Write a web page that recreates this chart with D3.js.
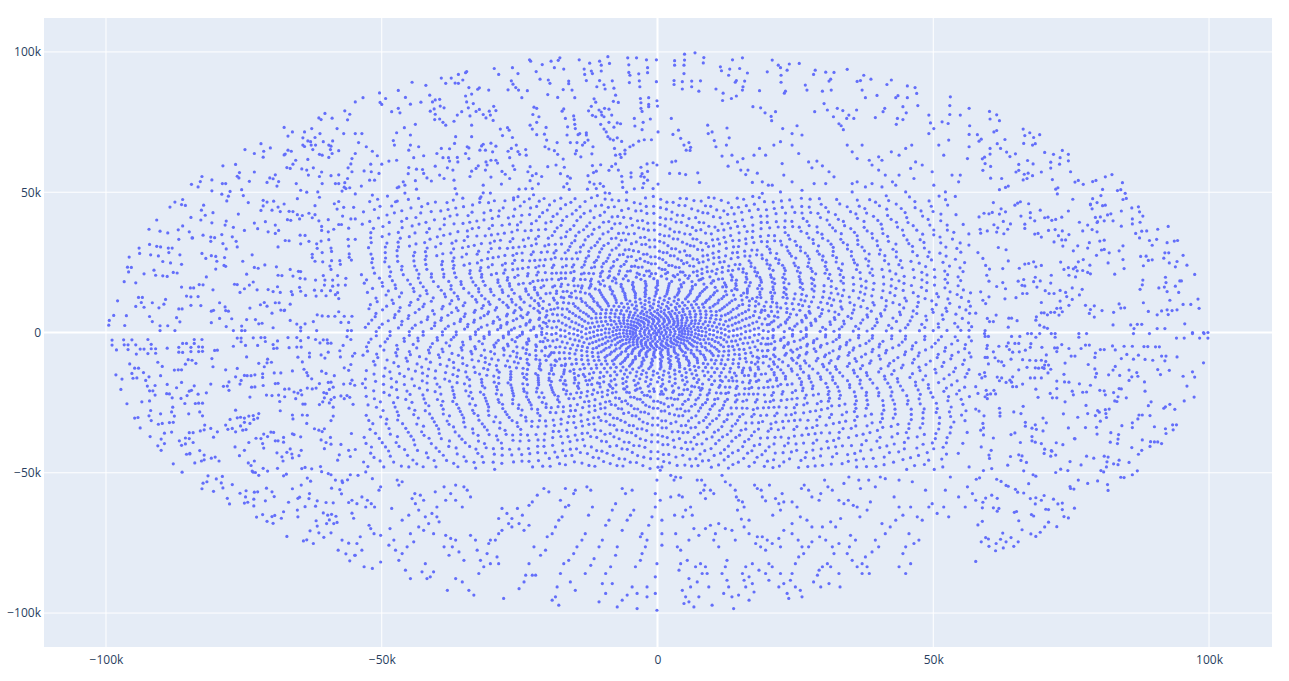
<!DOCTYPE html>
<html><head><meta charset="utf-8">
<script src="https://cdn.jsdelivr.net/npm/d3@7"></script>
<style>
html,body{margin:0;padding:0;background:#fff;}
svg text{font-family:"Open Sans",verdana,arial,sans-serif;}
</style>
</head><body>
<svg id="chart" width="1289" height="681"></svg>
<script>
// ---------- DATA (values in thousands) ----------
const xTickValues = [-100, -50, 0, 50, 100];
const xTickLabels = ["\u2212100k", "\u221250k", "0", "50k", "100k"];
const yTickValues = [-100, -50, 0, 50, 100];
const yTickLabels = ["\u2212100k", "\u221250k", "0", "50k", "100k"];

// outer band, upper-left  [x, y]
const outerUpperLeft = [[-60.3,78.1],[-56.7,79.0],[-55.8,77.8],[-59.0,76.4],[-61.4,76.5],[-61.0,75.9],[-56.2,75.8],[-58.1,72.7],[-56.9,70.9],[-54.8,70.9],[-62.7,72.7],[-67.7,73.1],[-66.2,71.5],[-64.0,71.5],[-67.0,70.0],[-64.3,69.4],[-63.4,68.3],[-62.9,68.0],[-62.1,69.5],[-61.2,70.9],[-60.6,68.0],[-59.6,66.8],[-59.2,66.4],[-58.9,68.3],[-62.0,66.8],[-62.8,66.8],[-64.3,66.8],[-64.0,66.3],[-71.9,67.3],[-70.2,65.8],[-71.4,64.6],[-71.5,62.5],[-73.1,63.8],[-74.8,65.2],[-67.5,63.6],[-67.7,63.3],[-67.0,65.0],[-66.4,64.6],[-65.6,61.4],[-66.1,60.0],[-66.6,58.5],[-67.2,58.8],[-64.5,58.3],[-63.4,61.7],[-62.4,58.7],[-62.5,65.2],[-61.3,63.5],[-60.8,63.2],[-59.0,63.8],[-59.6,62.4],[-59.3,65.2],[-57.8,64.8],[-55.4,62.0],[-55.6,60.1],[-56.1,58.7],[-56.2,54.9],[-55.4,57.3],[-60.9,57.2],[-61.3,55.6],[-60.8,53.1],[-59.2,55.9],[-57.8,56.2],[-58.4,53.1],[-57.8,53.1],[-56.7,53.4],[-56.8,51.8],[-57.2,50.4],[-56.5,51.3],[-55.8,51.6],[-63.6,57.9],[-63.3,56.1],[-65.5,53.1],[-64.7,50.7],[-65.3,47.7],[-63.6,50.0],[-61.6,50.1],[-62.1,45.2],[-61.3,48.2],[-69.3,56.2],[-69.7,54.8],[-69.0,52.2],[-70.8,53.5],[-70.3,55.1],[-68.7,53.8],[-74.0,53.9],[-73.1,57.2],[-76.5,59.9],[-75.8,57.0],[-76.2,55.7],[-75.9,55.1],[-78.8,59.4],[-82.6,55.6],[-82.9,53.8],[-84.5,52.8],[-83.3,51.9],[-80.8,54.4],[-78.9,53.1],[-78.3,53.1],[-80.8,50.5],[-79.0,49.3],[-77.8,48.6],[-77.5,50.3],[-78.1,46.9],[-75.4,50.9],[-75.1,48.8],[-74.2,46.3],[-86.1,47.4],[-86.3,45.6],[-87.5,46.5],[-85.6,45.3],[-88.4,44.7],[-82.3,45.4],[-82.7,43.6],[-82.0,41.8],[-80.6,42.7],[-82.8,40.1],[-84.6,41.0],[-90.8,40.1],[-92.2,36.8],[-90.2,36.1],[-88.8,35.5],[-86.9,36.6],[-86.1,38.0],[-86.8,33.2],[-84.9,35.9],[-84.3,33.7],[-94.0,30.1],[-93.9,28.2],[-92.1,31.4],[-90.8,30.7],[-90.1,30.5],[-91.9,27.7],[-90.5,27.3],[-89.7,25.3],[-88.7,30.1],[-88.0,30.1],[-88.6,28.5],[-88.3,24.8],[-89.7,20.2],[-88.9,20.0],[-87.8,21.4],[-87.1,21.2],[-86.3,24.3],[-86.3,16.2],[-86.6,27.7],[-95.8,26.9],[-96.1,23.3],[-95.4,23.2],[-95.9,21.6],[-96.7,18.1],[-94.6,17.7],[-93.1,20.9],[-91.3,22.2],[-91.0,20.4],[-97.9,11.3],[-98.6,6.1],[-99.4,4.3],[-99.5,2.6],[-96.6,2.5],[-96.3,6.0],[-94.6,9.3],[-94.1,12.5],[-93.4,12.5],[-93.6,10.7],[-93.1,9.0],[-91.6,10.6],[-89.5,10.1],[-89.2,11.8],[-90.4,8.8],[-92.1,5.7],[-91.6,3.9],[-90.2,2.4],[-90.2,0.7],[-88.8,2.4],[-87.5,0.7],[-87.2,5.3],[-86.6,3.8],[-86.8,8.4],[-86.2,8.4],[-80.8,39.1],[-78.2,39.7],[-78.4,38.3],[-79.0,34.9],[-78.8,31.7],[-78.2,29.8],[-77.1,34.1],[-76.2,30.5],[-76.4,32.5],[-76.9,37.5],[-76.0,42.2],[-74.9,36.4],[-84.4,33.7],[-82.4,34.7],[-81.0,34.0],[-80.3,33.8],[-81.0,32.5],[-82.6,28.2],[-80.9,27.4],[-80.1,27.1],[-81.9,26.4],[-79.9,25.4],[-78.5,26.7],[-78.6,23.9],[-78.3,23.6],[-80.1,22.6],[-81.8,19.8],[-82.4,17.0],[-83.1,17.1],[-84.7,15.9],[-84.1,15.9],[-85.4,13.0],[-84.6,12.7],[-83.3,12.8],[-82.8,9.6],[-84.6,9.7],[-80.6,15.2],[-80.9,7.6],[-80.5,7.9],[-79.4,10.6],[-78.4,9.1],[-77.8,7.6],[-78.3,7.8],[-79.4,5.0],[-80.9,3.5],[-77.2,4.9],[-78.2,2.1],[-76.9,0.7],[-75.4,0.7],[-74.8,0.7],[-75.4,2.3],[-74.5,4.6],[-73.9,8.7],[-72.9,4.6],[-72.3,3.1],[-71.7,3.3],[-72.0,9.9],[-71.3,10.7],[-70.8,9.4],[-69.9,6.9],[-69.7,1.7],[-69.3,10.6],[-68.6,10.6],[-68.3,8.0],[-67.6,8.0],[-66.6,10.1],[-66.6,4.3],[-65.4,3.0],[-64.7,1.8],[-64.7,0.6],[-63.9,3.1],[-62.4,3.9],[-61.8,0.7],[-61.7,6.3],[-60.8,5.9],[-59.7,5.8],[-58.5,5.8],[-57.8,7.4],[-57.4,3.6],[-56.8,5.8],[-56.0,3.6],[-55.4,5.8],[-56.2,0.7],[-55.5,0.7],[-71.5,47.1],[-70.8,46.5],[-71.5,45.1],[-71.9,43.5],[-69.9,43.6],[-69.6,46.8],[-68.8,44.7],[-68.4,43.1],[-67.7,45.8],[-66.8,43.2],[-66.1,43.1],[-66.5,40.0],[-67.1,40.2],[-65.3,42.0],[-64.4,41.7],[-64.9,40.5],[-63.2,42.5],[-62.6,40.9],[-62.1,42.0],[-61.4,39.8],[-59.7,40.2],[-60.9,37.8],[-60.9,36.4],[-59.7,35.9],[-58.7,36.8],[-57.8,38.5],[-57.3,38.5],[-57.1,41.5],[-58.6,45.9],[-58.1,44.0],[-57.8,46.7],[-56.9,44.6],[-55.1,44.6],[-55.6,40.5],[-56.0,37.2],[-54.8,40.5],[-73.1,39.0],[-72.5,37.0],[-71.1,39.5],[-70.6,35.9],[-69.3,38.3],[-68.7,36.4],[-69.3,35.3],[-68.8,30.5],[-67.5,32.8],[-66.8,32.7],[-64.8,34.7],[-63.9,34.6],[-64.7,31.6],[-63.2,32.5],[-61.8,31.6],[-61.0,32.6],[-59.6,33.1],[-59.2,30.1],[-59.1,28.9],[-60.8,28.5],[-61.7,30.0],[-62.6,27.9],[-62.6,26.7],[-62.1,25.4],[-60.7,25.2],[-59.1,25.6],[-59.4,23.7],[-59.2,22.5],[-57.6,25.6],[-57.5,24.3],[-56.1,33.2],[-56.0,30.8],[-54.8,33.2],[-55.9,28.0],[-55.9,26.8],[-55.5,25.8],[-75.2,25.4],[-73.5,27.7],[-74.5,20.8],[-73.1,23.2],[-72.4,22.9],[-71.2,24.1],[-69.1,23.4],[-68.8,20.4],[-68.1,20.3],[-66.6,22.5],[-66.1,20.1],[-65.1,21.8],[-64.7,21.7],[-64.8,19.3],[-63.9,19.1],[-62.0,18.7],[-60.6,20.3],[-60.3,18.7],[-60.4,16.9],[-58.9,18.7],[-58.0,20.3],[-58.9,16.5],[-57.9,16.9],[-56.5,19.3],[-56.6,16.9],[-76.7,17.2],[-76.2,17.1],[-75.7,14.3],[-74.9,15.6],[-74.0,16.9],[-73.3,18.0],[-72.6,15.2],[-70.6,15.3],[-69.7,14.6],[-68.9,16.3],[-68.4,14.3],[-67.7,7.8],[-66.4,14.6],[-66.2,13.5],[-64.9,16.1],[-64.7,14.7],[-63.8,13.2],[-62.2,15.1],[-61.9,13.0],[-60.9,14.9],[-60.1,13.1],[-59.3,14.9],[-58.4,13.5],[-58.0,14.2],[-57.8,12.1]];

// outer band, lower-left  [x, y]
const outerLowerLeft = [[-98.9,-2.7],[-98.9,-4.5],[-98.1,-6.2],[-96.8,-2.6],[-96.7,-4.4],[-96.0,-4.4],[-96.0,-6.1],[-95.3,-2.6],[-94.6,-4.4],[-94.5,-7.7],[-93.8,-5.9],[-93.1,-5.9],[-92.4,-2.5],[-91.8,-4.2],[-91.8,-5.8],[-91.0,-5.8],[-91.0,-7.4],[-92.4,-7.5],[-98.2,-15.1],[-97.1,-16.6],[-97.3,-20.3],[-96.2,-25.4],[-95.7,-11.2],[-95.3,-14.6],[-95.1,-16.3],[-94.8,-12.7],[-94.4,-16.2],[-94.1,-12.7],[-93.2,-14.3],[-92.2,-15.8],[-92.8,-17.1],[-94.8,-30.5],[-94.2,-30.3],[-93.8,-34.0],[-93.5,-24.7],[-92.5,-19.1],[-92.1,-20.8],[-92.1,-24.4],[-91.9,-27.8],[-92.2,-29.7],[-91.8,-31.4],[-91.5,-20.8],[-91.1,-18.9],[-91.1,-22.3],[-90.6,-10.6],[-90.1,-15.4],[-89.8,-12.1],[-88.9,-5.6],[-92.0,-37.1],[-90.6,-40.4],[-90.0,-42.0],[-90.0,-38.0],[-89.8,-32.4],[-90.5,-32.7],[-89.4,-35.9],[-89.4,-39.6],[-90.1,-29.0],[-88.9,-18.5],[-89.0,-21.8],[-88.5,-21.9],[-88.0,-23.3],[-88.1,-28.3],[-87.9,-26.6],[-87.6,-29.8],[-87.8,-32.0],[-88.5,-32.1],[-88.1,-35.5],[-87.8,-46.8],[-86.7,-38.6],[-86.3,-40.2],[-85.6,-39.7],[-85.6,-37.6],[-86.2,-49.8],[-85.4,-43.4],[-84.8,-43.3],[-85.0,-29.0],[-85.7,-25.3],[-86.3,-13.3],[-86.1,-7.1],[-86.8,-7.0],[-86.8,-5.3],[-85.4,-3.9],[-86.1,-3.9],[-84.6,-5.3],[-84.6,-6.8],[-84.0,-3.9],[-84.0,-2.5],[-83.2,-5.1],[-82.6,-2.5],[-82.5,-5.2],[-82.5,-6.7],[-83.2,-6.8],[-83.7,-11.0],[-84.4,-9.9],[-85.1,-9.7],[-85.6,-11.3],[-86.9,-13.3],[-87.6,-13.4],[-87.2,-19.7],[-86.3,-17.8],[-86.4,-23.5],[-85.3,-22.5],[-84.9,-20.9],[-84.5,-20.6],[-84.0,-19.0],[-83.3,-22.0],[-83.8,-25.3],[-83.2,-25.2],[-82.5,-25.2],[-83.0,-28.3],[-82.5,-29.7],[-82.9,-35.1],[-82.2,-34.7],[-81.8,-21.5],[-82.1,-33.0],[-81.0,-18.4],[-80.8,-9.3],[-80.6,-12.2],[-79.8,-6.3],[-80.3,-6.4],[-79.8,-35.4],[-80.5,-37.3],[-81.0,-34.2],[-84.9,-35.7],[-84.2,-35.7],[-84.9,-37.8],[-84.2,-39.2],[-84.8,-43.1],[-83.9,-46.5],[-83.0,-42.1],[-82.7,-45.8],[-82.2,-45.4],[-80.9,-44.8],[-80.2,-44.4],[-79.5,-45.8],[-82.2,-43.7],[-82.6,-55.7],[-82.4,-53.7],[-81.7,-53.2],[-81.5,-51.1],[-80.5,-56.6],[-80.0,-52.2],[-79.1,-53.6],[-78.8,-55.4],[-78.9,-51.3],[-78.0,-59.1],[-77.6,-61.1],[-77.1,-54.2],[-75.7,-57.3],[-74.9,-60.8],[-74.7,-58.6],[-74.6,-56.4],[-74.3,-60.5],[-73.2,-59.4],[-73.2,-61.8],[-73.1,-56.9],[-72.5,-56.8],[-72.9,-49.9],[-72.3,-50.9],[-73.5,-49.4],[-72.7,-65.8],[-71.6,-64.9],[-70.8,-67.3],[-71.1,-60.0],[-70.9,-55.5],[-69.9,-56.8],[-69.5,-58.5],[-69.9,-65.6],[-69.4,-65.2],[-69.7,-68.0],[-67.8,-63.9],[-68.2,-66.2],[-67.2,-72.7],[-66.9,-60.5],[-66.2,-55.7],[-65.2,-59.1],[-65.3,-63.3],[-65.2,-65.7],[-64.9,-58.7],[-63.9,-62.1],[-63.2,-59.2],[-63.1,-57.4],[-64.6,-54.4],[-63.5,-51.9],[-62.9,-53.0],[-64.2,-74.3],[-63.6,-73.9],[-62.4,-75.2],[-63.0,-70.7],[-62.0,-61.9],[-61.7,-60.0],[-61.7,-69.0],[-61.9,-67.1],[-61.4,-71.4],[-60.5,-73.0],[-60.1,-60.6],[-60.6,-64.3],[-60.0,-68.1],[-59.8,-65.1],[-59.5,-66.8],[-59.2,-71.4],[-59.1,-64.8],[-58.7,-68.1],[-58.3,-65.5],[-58.1,-67.7],[-57.9,-77.6],[-58.8,-60.7],[-58.4,-52.6],[-59.1,-55.5],[-59.2,-50.7],[-57.2,-52.9],[-57.3,-57.5],[-56.5,-78.9],[-56.0,-75.1],[-55.8,-81.4],[-54.9,-79.4],[-57.2,-74.0],[-55.7,-50.7],[-55.4,-64.4],[-55.1,-66.2],[-56.0,-60.6],[-55.4,-59.8],[-57.6,-56.0],[-57.1,-53.5],[-56.2,-52.5],[-76.9,-4.9],[-76.2,-2.0],[-75.5,-2.0],[-74.7,-4.6],[-74.5,-8.7],[-75.5,-3.3],[-73.3,-1.9],[-72.5,-4.6],[-71.9,-1.8],[-71.2,-1.8],[-71.1,-3.2],[-72.3,-11.0],[-70.8,-10.8],[-71.3,-12.2],[-70.0,-10.6],[-70.7,-9.5],[-69.7,-4.3],[-69.0,-5.6],[-69.6,-5.7],[-68.9,-3.0],[-67.0,-1.8],[-66.8,-5.4],[-65.4,-1.8],[-64.7,-2.9],[-65.4,-5.2],[-64.6,-5.2],[-63.3,-1.8],[-63.1,-7.3],[-63.1,-8.7],[-62.0,-2.5],[-61.2,-3.7],[-60.6,-2.6],[-59.9,-2.6],[-59.8,-3.8],[-59.2,-3.8],[-60.3,-9.1],[-61.0,-8.0],[-59.7,-7.0],[-57.6,-6.5],[-57.5,-8.7],[-57.0,-4.6],[-56.3,-1.5],[-55.6,-2.5],[-55.3,-8.4],[-54.9,-7.4],[-55.6,-11.4],[-78.3,-13.3],[-78.7,-19.2],[-78.0,-19.1],[-77.7,-20.6],[-77.7,-17.6],[-76.5,-15.8],[-76.2,-12.8],[-75.7,-18.4],[-75.5,-17.1],[-74.9,-15.3],[-74.4,-15.4],[-73.7,-15.4],[-73.0,-15.1],[-73.6,-19.5],[-73.0,-19.4],[-73.9,-23.0],[-71.5,-18.9],[-71.6,-16.0],[-71.6,-14.7],[-69.5,-14.4],[-70.9,-22.3],[-69.9,-22.5],[-69.3,-18.2],[-68.8,-18.1],[-68.3,-14.4],[-68.7,-22.3],[-67.6,-22.9],[-68.5,-24.6],[-68.4,-27.9],[-67.6,-20.2],[-66.8,-20.1],[-65.9,-21.2],[-66.2,-13.7],[-65.2,-8.8],[-64.4,-10.5],[-64.1,-13.1],[-63.4,-15.4],[-62.7,-16.5],[-63.6,-14.3],[-64.7,-20.6],[-65.6,-23.6],[-65.2,-21.6],[-64.5,-22.2],[-63.5,-19.8],[-62.6,-20.1],[-61.9,-19.8],[-60.5,-21.4],[-60.0,-21.7],[-59.5,-20.3],[-59.7,-17.8],[-59.2,-17.7],[-58.6,-15.4],[-58.8,-19.5],[-60.1,-14.6],[-60.9,-13.8],[-61.3,-18.2],[-61.3,-25.7],[-60.7,-24.7],[-60.4,-23.3],[-59.5,-25.1],[-59.2,-23.9],[-58.8,-26.6],[-58.6,-23.1],[-57.4,-22.6],[-56.8,-23.6],[-56.3,-22.5],[-55.8,-23.1],[-55.2,-25.6],[-55.7,-18.2],[-55.4,-17.0],[-54.9,-18.8],[-56.9,-18.4],[-56.8,-12.6],[-56.0,-13.5],[-58.8,-29.8],[-59.2,-31.4],[-60.4,-34.3],[-61.4,-34.8],[-60.8,-35.3],[-62.2,-34.3],[-63.6,-32.4],[-64.4,-29.4],[-66.2,-29.4],[-66.1,-30.8],[-64.3,-25.5],[-63.9,-25.5],[-63.5,-29.5],[-65.9,-36.4],[-64.7,-37.2],[-66.2,-36.1],[-67.8,-37.4],[-67.8,-39.1],[-68.8,-38.6],[-69.3,-38.6],[-69.6,-35.6],[-70.1,-35.5],[-70.7,-37.1],[-71.4,-36.2],[-71.6,-39.6],[-71.9,-37.8],[-72.8,-37.7],[-74.1,-39.2],[-73.9,-32.4],[-73.2,-31.0],[-72.5,-30.5],[-72.3,-28.9],[-73.3,-29.6],[-74.1,-29.8],[-74.9,-30.5],[-75.6,-30.2],[-76.2,-30.4],[-76.5,-27.7],[-77.5,-31.0],[-78.3,-33.0],[-77.9,-34.5],[-77.1,-34.2],[-76.5,-35.4],[-75.6,-33.3],[-75.2,-34.8],[-74.6,-34.6],[-74.9,-32.0],[-76.6,-40.8],[-75.8,-43.9],[-74.9,-42.0],[-74.2,-46.5],[-73.7,-47.4],[-73.3,-49.8],[-73.1,-45.8],[-71.5,-48.4],[-70.7,-49.4],[-68.9,-48.4],[-67.8,-51.1],[-67.3,-50.5],[-66.3,-43.3],[-66.2,-44.7],[-65.0,-43.9],[-64.5,-48.5],[-63.9,-48.1],[-64.6,-42.0],[-66.6,-41.5],[-67.2,-42.7],[-69.0,-42.9],[-68.1,-44.3],[-67.9,-45.8],[-71.4,-41.2],[-61.0,-38.3],[-60.1,-39.2],[-60.4,-41.4],[-59.2,-39.8],[-59.3,-37.4],[-58.0,-45.5],[-57.7,-43.6],[-57.4,-39.9],[-56.0,-42.0],[-55.5,-36.0],[-54.8,-41.7],[-55.7,-44.2],[-59.7,-50.3],[-60.9,-49.6],[-61.1,-47.8],[-62.7,-48.6]];

// outer band, upper-right  [x, y]
const outerUpperRight = [[60.2,78.8],[60.3,76.1],[61.5,77.6],[62.0,75.5],[61.0,71.5],[61.5,72.0],[58.0,70.5],[58.3,68.2],[58.7,68.9],[58.9,61.9],[59.3,62.5],[59.4,60.2],[60.3,65.6],[60.3,63.6],[60.4,59.2],[59.0,57.8],[60.4,55.0],[61.6,67.3],[62.2,65.6],[63.0,68.8],[63.3,64.3],[63.9,62.7],[64.9,63.7],[62.4,54.9],[62.0,50.9],[63.1,51.7],[63.6,52.2],[66.3,72.5],[66.6,70.2],[67.5,71.2],[68.2,69.5],[69.3,70.5],[66.4,67.4],[68.0,66.8],[68.5,67.3],[67.1,61.3],[65.5,59.9],[68.1,60.1],[65.5,57.8],[65.0,57.2],[67.2,56.8],[66.5,56.4],[67.0,54.9],[66.3,54.4],[68.0,55.9],[69.6,57.2],[70.2,64.2],[71.3,60.7],[71.8,63.5],[71.3,58.6],[73.0,62.3],[72.9,60.0],[73.4,64.9],[74.5,63.5],[74.5,61.2],[74.9,57.3],[71.6,54.5],[72.2,51.1],[72.6,51.6],[72.5,49.4],[75.7,53.6],[76.3,54.2],[77.2,52.8],[78.9,53.8],[79.5,54.2],[81.2,55.5],[82.4,56.3],[80.7,51.0],[80.4,48.8],[78.9,47.7],[78.5,45.5],[79.7,46.3],[78.8,44.1],[81.2,45.4],[80.7,45.2],[79.4,41.0],[79.7,39.2],[79.7,35.9],[80.3,41.2],[81.0,39.8],[81.6,41.9],[82.2,42.3],[81.9,28.4],[82.6,39.8],[83.4,50.6],[84.0,50.9],[84.3,53.4],[84.8,49.6],[84.4,47.4],[85.0,47.8],[84.1,43.3],[84.1,37.9],[83.7,29.1],[84.4,30.9],[84.4,26.0],[84.6,22.8],[82.9,20.8],[81.7,24.8],[81.0,32.9],[81.0,29.6],[80.5,29.4],[80.2,32.6],[79.6,27.5],[78.0,30.1],[78.3,32.0],[78.8,36.7],[79.8,39.5],[86.0,44.4],[86.1,40.5],[86.1,38.7],[87.2,44.8],[87.4,43.0],[87.5,39.3],[88.0,41.5],[86.7,35.3],[87.4,33.7],[87.8,36.1],[88.7,36.2],[89.2,32.8],[89.7,31.1],[90.5,33.2],[90.7,36.8],[92.6,37.8],[92.4,32.0],[92.0,28.4],[91.8,26.5],[92.7,28.4],[93.7,32.6],[94.3,32.8],[95.3,27.5],[94.2,25.3],[93.9,23.4],[92.8,24.8],[92.1,19.7],[92.2,17.8],[91.9,16.2],[90.9,15.9],[92.4,14.6],[92.9,11.5],[93.9,16.5],[94.7,18.4],[95.0,18.4],[94.5,14.3],[96.0,24.0],[97.4,20.7],[98.0,11.9],[98.2,8.6],[96.7,10.0],[95.3,10.0],[95.6,3.1],[94.2,8.1],[93.3,7.8],[92.6,6.4],[92.4,8.1],[91.4,7.7],[90.6,6.3],[89.0,7.5],[88.1,10.6],[88.0,18.7],[87.5,15.4],[87.9,17.0],[87.6,27.1],[88.6,27.2],[88.1,23.8],[89.0,25.7],[89.7,25.9],[58.3,41.2],[58.5,36.8],[58.6,35.4],[59.2,42.5],[59.8,36.2],[60.1,42.3],[60.7,42.8],[60.9,46.3],[62.0,42.2],[62.3,44.1],[63.1,43.0],[62.7,39.6],[63.5,36.8],[62.8,35.2],[61.7,37.3],[61.5,35.8],[61.0,38.4],[64.0,38.7],[64.8,45.4],[65.3,46.1],[65.8,46.6],[65.9,41.5],[66.6,38.6],[66.6,37.1],[67.3,45.9],[67.6,42.7],[67.6,40.9],[68.4,39.8],[68.4,35.1],[69.0,35.3],[69.4,43.6],[69.6,34.0],[70.2,40.9],[70.8,41.1],[70.9,36.4],[71.5,40.0],[71.9,32.3],[72.2,40.3],[72.1,36.7],[72.7,34.5],[73.3,41.1],[73.4,36.2],[73.5,30.8],[73.3,33.0],[74.0,33.0],[74.6,34.9],[74.5,43.3],[75.3,47.5],[75.4,29.1],[76.2,30.9],[76.5,39.3],[77.1,36.2],[78.0,38.3],[78.5,45.8],[58.1,28.5],[59.0,26.4],[59.5,23.9],[60.2,22.6],[59.7,20.4],[60.1,18.3],[58.6,14.5],[59.0,11.5],[59.5,10.3],[60.1,12.7],[57.7,6.9],[59.8,5.0],[60.2,3.9],[60.9,3.9],[61.4,6.2],[61.5,16.4],[62.6,17.8],[63.1,15.6],[63.0,12.0],[63.6,25.5],[63.2,29.5],[61.8,30.3],[62.6,22.8],[59.4,0.7],[63.7,5.1],[64.2,5.1],[65.2,4.2],[63.6,1.9],[65.0,12.4],[65.4,18.3],[66.4,18.9],[66.1,16.8],[66.6,16.6],[66.2,13.9],[67.0,13.9],[65.6,22.9],[66.6,24.4],[67.3,24.6],[68.2,25.2],[68.6,23.4],[68.5,19.7],[68.2,18.1],[69.4,18.4],[68.8,16.2],[69.6,23.9],[70.3,14.9],[71.3,17.6],[71.0,13.9],[71.9,13.9],[71.4,20.4],[73.1,25.1],[73.7,22.5],[74.5,23.1],[74.6,20.4],[75.4,22.7],[75.8,23.3],[75.2,15.9],[73.0,15.0],[74.0,14.3],[74.2,12.8],[75.2,11.8],[73.0,11.2],[72.4,8.6],[73.1,8.7],[73.4,7.4],[72.8,6.2],[72.0,7.2],[71.3,7.2],[70.7,6.3],[69.6,10.7],[68.7,5.6],[69.6,7.0],[70.1,7.0],[68.6,4.4],[69.3,2.6],[70.1,1.9],[70.7,1.5],[75.8,19.8],[76.5,13.4],[77.0,15.4],[77.6,9.7],[78.5,8.2],[79.2,9.5],[79.2,5.5],[78.3,6.8],[80.6,7.8],[82.7,7.2],[82.6,2.7],[84.0,8.7],[84.7,8.8],[83.7,10.2],[85.8,2.7],[86.4,1.4],[87.0,2.9],[87.8,2.9],[77.1,22.1],[78.0,21.4],[78.5,20.9],[78.4,24.0],[77.2,26.0],[76.3,25.2],[76.1,22.0],[74.6,9.7],[90.6,1.4],[92.0,1.4],[97.0,0.0],[99.0,0.0],[99.8,0.0]];

// outer band, lower-right  [x, y]
const outerLowerRight = [[59.3,-0.4],[59.4,-1.4],[60.0,-1.4],[64.2,-1.4],[65.7,-1.4],[67.1,-0.4],[67.8,-0.4],[68.6,-1.7],[69.3,-0.4],[71.4,-0.4],[72.1,-0.4],[72.1,-1.7],[76.4,-0.4],[76.4,-1.7],[77.8,-0.4],[86.3,-0.4],[89.2,-0.4],[94.1,-2.0],[95.5,-2.0],[97.0,-0.4],[98.3,-2.0],[99.1,-0.4],[99.8,-2.0],[59.8,-4.6],[59.7,-5.7],[60.0,-11.2],[59.4,-8.9],[59.8,-8.9],[61.2,-9.0],[60.9,-6.9],[61.9,-4.9],[62.4,-10.5],[62.8,-11.8],[61.8,-10.2],[63.6,-3.7],[63.3,-4.9],[63.8,-6.1],[64.4,-7.0],[64.1,-9.5],[64.8,-3.9],[65.5,-3.9],[65.6,-6.9],[66.7,-6.3],[66.2,-9.7],[67.0,-12.4],[67.6,-5.3],[67.7,-4.0],[67.5,-9.9],[68.6,-10.0],[68.5,-12.6],[69.1,-12.7],[69.7,-5.3],[69.6,-9.9],[69.8,-12.5],[70.4,-10.3],[70.2,-11.6],[70.9,-11.6],[70.5,-8.0],[70.8,-14.4],[71.3,-13.1],[72.0,-5.5],[72.5,-5.5],[72.4,-6.8],[73.3,-4.3],[73.9,-10.9],[74.6,-5.7],[75.0,-8.4],[75.7,-8.4],[76.8,-5.7],[77.6,-4.5],[78.3,-4.5],[78.5,-18.8],[78.1,-11.4],[79.3,-8.9],[79.4,-7.3],[80.3,-6.1],[81.0,-6.1],[79.3,-13.0],[79.6,-14.6],[79.4,-15.9],[77.8,-21.2],[76.5,-18.3],[77.1,-21.3],[75.2,-20.9],[75.4,-22.2],[74.6,-17.7],[73.7,-14.9],[73.8,-17.6],[72.4,-17.3],[72.4,-20.0],[71.2,-21.7],[70.1,-12.8],[69.0,-23.1],[68.6,-20.2],[69.6,-16.2],[68.4,-16.2],[67.6,-16.2],[66.2,-18.4],[65.5,-13.3],[64.4,-15.8],[64.2,-17.7],[65.1,-19.3],[64.4,-19.3],[63.9,-17.0],[63.2,-17.8],[62.4,-16.2],[62.0,-17.2],[61.6,-15.9],[61.3,-21.9],[61.0,-20.6],[60.4,-21.9],[59.8,-22.1],[59.8,-23.6],[59.6,-20.6],[59.4,-22.9],[59.4,-15.6],[58.8,-16.2],[59.3,-14.3],[58.4,-14.9],[57.7,-19.3],[58.1,-21.7],[82.5,-4.8],[83.0,-6.2],[84.6,-4.9],[86.1,-4.9],[85.1,-7.8],[84.1,-9.3],[86.3,-9.5],[87.2,-8.1],[88.2,-5.0],[88.9,-5.0],[90.3,-5.1],[91.0,-5.1],[88.4,-9.6],[89.8,-9.9],[91.4,-8.4],[92.2,-8.4],[94.2,-8.7],[92.0,-10.1],[90.7,-13.2],[91.2,-15.0],[92.8,-13.5],[95.3,-15.6],[97.0,-14.0],[97.4,-15.9],[96.0,-19.1],[95.5,-24.4],[97.3,-23.0],[99.0,-10.8],[93.8,-27.4],[92.9,-25.6],[92.1,-26.5],[91.8,-27.0],[93.4,-32.9],[94.1,-32.9],[93.5,-34.7],[92.2,-36.0],[92.1,-34.3],[91.4,-39.6],[90.7,-39.0],[90.1,-39.0],[89.4,-38.9],[89.3,-40.6],[87.8,-42.0],[87.2,-43.4],[87.9,-38.3],[87.1,-30.8],[87.3,-29.4],[87.9,-29.4],[89.3,-29.6],[89.0,-26.1],[89.5,-24.7],[90.1,-33.6],[88.4,-20.9],[88.3,-17.6],[87.1,-15.6],[86.0,-15.8],[85.5,-17.1],[85.0,-23.3],[84.1,-20.1],[83.7,-20.0],[83.5,-22.9],[83.3,-24.6],[82.9,-24.4],[82.7,-21.4],[81.8,-15.1],[82.6,-13.4],[83.0,-12.1],[83.8,-15.3],[85.5,-13.4],[86.9,-14.3],[86.1,-32.2],[86.1,-33.9],[86.0,-41.0],[84.2,-33.2],[83.6,-36.4],[83.5,-38.0],[83.4,-39.6],[82.1,-39.1],[82.2,-35.7],[81.2,-22.2],[81.0,-20.8],[80.2,-20.6],[79.8,-27.8],[79.4,-29.6],[80.1,-28.4],[80.3,-31.6],[81.4,-30.3],[81.3,-28.9],[81.9,-27.3],[81.2,-27.5],[79.7,-36.2],[79.6,-33.8],[77.6,-33.9],[78.0,-28.9],[77.7,-26.0],[76.2,-30.2],[75.7,-37.9],[74.8,-46.0],[76.8,-47.2],[77.8,-44.1],[79.1,-44.8],[81.0,-44.1],[81.7,-44.4],[81.5,-46.1],[81.4,-47.9],[80.9,-49.7],[80.4,-49.2],[82.7,-46.8],[83.5,-47.1],[83.7,-45.5],[87.0,-49.3],[86.1,-50.7],[84.6,-51.7],[84.0,-51.6],[85.5,-46.3],[81.6,-54.2],[81.7,-56.3],[79.8,-52.9],[78.0,-53.8],[76.3,-52.6],[74.9,-55.6],[75.5,-55.8],[57.7,-27.3],[58.3,-28.0],[59.2,-29.7],[59.0,-32.4],[59.1,-34.0],[58.6,-34.8],[59.1,-36.5],[58.7,-40.8],[60.5,-42.0],[60.9,-37.6],[62.1,-28.6],[62.1,-29.8],[62.0,-27.0],[64.6,-28.3],[65.9,-28.9],[66.3,-26.3],[66.7,-32.0],[66.7,-33.4],[68.5,-32.9],[67.9,-34.1],[68.7,-34.5],[69.9,-30.5],[70.5,-32.2],[69.9,-35.1],[69.6,-39.6],[67.9,-37.1],[67.9,-38.6],[68.5,-39.1],[64.8,-35.8],[64.1,-36.4],[65.8,-39.2],[65.9,-45.6],[65.5,-43.6],[66.1,-44.0],[66.9,-46.3],[65.3,-56.9],[64.9,-55.9],[63.6,-54.8],[63.2,-54.5],[62.3,-53.1],[61.5,-52.3],[60.6,-48.5],[59.1,-49.2],[58.4,-51.8],[57.8,-52.3],[60.2,-44.9],[60.1,-43.7],[63.5,-47.3],[64.0,-44.2],[66.4,-49.3],[68.1,-50.7],[68.6,-51.2],[67.3,-53.9],[66.4,-57.2],[70.2,-41.6],[71.5,-42.3],[72.3,-39.3],[73.5,-40.0],[72.2,-43.7],[71.3,-44.1],[71.4,-42.1],[70.1,-43.1],[71.6,-23.3],[72.4,-23.3],[73.9,-24.7],[73.6,-29.0],[74.5,-34.0],[75.6,-37.8],[73.1,-48.7],[72.2,-49.9],[74.4,-49.2],[74.8,-54.9],[70.1,-58.1],[69.6,-59.8],[68.6,-58.9],[68.5,-61.1],[67.6,-59.2],[67.8,-64.9],[68.2,-65.4],[70.4,-63.0],[70.9,-63.1],[71.8,-59.4],[72.6,-61.1],[73.4,-60.8],[73.4,-63.1],[73.7,-65.6],[74.5,-66.1],[75.6,-62.6],[72.4,-69.2],[70.9,-67.6],[70.2,-69.3],[69.4,-71.2],[68.6,-72.7],[67.7,-71.8],[66.1,-70.3],[65.5,-67.1],[65.1,-63.8],[64.7,-64.1],[61.9,-62.7],[61.6,-63.7],[60.9,-62.5],[59.0,-60.5],[58.9,-62.5],[60.6,-58.0],[61.6,-59.1],[59.5,-59.0],[58.1,-68.6],[58.9,-67.3],[58.7,-74.6],[59.5,-73.1],[60.0,-73.6],[60.1,-76.2],[61.4,-75.2],[62.2,-73.7],[62.6,-71.5],[63.2,-74.6],[64.1,-73.1],[64.6,-76.2],[65.4,-74.6],[61.3,-77.8],[62.7,-76.8],[57.7,-81.6]];

// upper middle band, left of centre  [x, y]
const upperMidLeft = [[-23.0,96.7],[-23.2,97.2],[-20.9,95.5],[-19.3,96.7],[-18.7,94.4],[-17.7,97.9],[-18.0,97.0],[-17.0,93.9],[-14.2,97.2],[-12.3,96.0],[-10.5,96.7],[-10.2,95.3],[-9.0,98.3],[-8.7,95.9],[-5.4,97.9],[-5.2,95.4],[-3.8,97.9],[-2.0,97.2],[-0.2,97.2],[-5.2,92.7],[-5.0,91.7],[-3.4,92.2],[-1.8,94.4],[-1.8,92.6],[-0.2,89.4],[-3.3,89.7],[-3.2,87.6],[-5.1,89.1],[-8.2,89.7],[-7.9,87.1],[-9.7,88.3],[-9.5,86.8],[-11.0,87.6],[-10.5,89.8],[-12.0,93.2],[-11.8,92.3],[-10.2,93.2],[-13.3,93.9],[-13.2,92.0],[-12.9,89.8],[-16.1,89.6],[-16.1,88.7],[-15.5,86.4],[-15.0,83.7],[-17.1,86.6],[-18.1,83.8],[-19.9,84.8],[-19.8,90.0],[-19.5,88.8],[-21.3,90.3],[-22.0,93.0],[-26.5,89.7],[-26.2,88.5],[-25.7,87.3],[-25.2,86.4],[-24.6,83.7],[-23.6,86.2],[-27.1,86.5],[-28.8,92.0],[-29.6,94.1],[-26.3,94.4],[-25.3,92.3],[-30.6,86.4],[-32.3,87.2],[-32.6,86.7],[-34.2,87.3],[-33.7,85.0],[-34.6,93.0],[-34.8,92.6],[-35.3,90.0],[-36.1,92.0],[-34.8,84.3],[-34.6,82.2],[-36.1,88.8],[-37.4,90.7],[-36.7,88.9],[-39.2,90.7],[-38.4,88.8],[-42.0,88.1],[-44.5,89.2],[-47.0,86.3],[-49.3,83.4],[-50.4,85.4],[-50.3,82.0],[-50.0,81.3],[-53.4,83.7],[-54.8,82.2],[-45.7,83.8],[-44.8,81.4],[-42.9,82.1],[-41.3,84.6],[-40.3,82.9],[-39.5,83.1],[-39.4,80.7],[-40.5,79.7],[-53.6,70.9],[-54.2,67.7],[-54.8,63.8],[-52.8,66.2],[-51.7,64.6],[-50.8,63.0],[-52.0,60.0],[-50.0,60.0],[-51.9,57.3],[-53.2,57.6],[-50.5,56.7],[-51.3,54.3],[-52.2,54.3],[-53.7,52.2],[-51.7,49.0],[-54.8,49.4],[-47.0,79.9],[-46.7,78.3],[-48.2,78.7],[-47.3,71.2],[-45.9,73.0],[-44.8,70.4],[-43.9,74.2],[-44.8,66.8],[-45.1,65.0],[-43.3,66.2],[-44.2,62.3],[-42.4,63.0],[-47.7,66.8],[-47.9,68.4],[-48.7,61.1],[-47.3,61.4],[-45.1,58.8],[-45.2,56.6],[-43.7,58.2],[-42.4,56.7],[-41.8,55.1],[-42.6,58.1],[-41.0,54.0],[-43.9,54.1],[-46.1,53.7],[-45.8,52.5],[-46.9,51.9],[-47.2,51.6],[-45.8,49.7],[-43.7,51.1],[-47.5,46.6],[-40.8,82.2],[-41.2,78.9],[-40.3,77.8],[-39.5,76.1],[-38.9,74.9],[-38.4,73.9],[-40.4,75.9],[-38.7,80.1],[-36.9,75.3],[-36.3,77.5],[-35.5,78.7],[-34.0,77.2],[-33.7,73.9],[-32.9,78.8],[-32.3,79.5],[-31.6,77.7],[-31.1,76.5],[-30.5,78.9],[-29.7,80.6],[-29.3,79.1],[-30.3,77.5],[-29.8,75.6],[-33.4,81.6],[-34.3,80.1],[-36.6,69.8],[-36.8,67.4],[-37.7,65.5],[-37.9,62.3],[-37.7,61.1],[-36.3,62.4],[-36.2,60.8],[-38.1,58.7],[-37.1,57.9],[-40.0,63.8],[-39.2,65.6],[-38.9,62.3],[-40.3,59.3],[-39.5,56.1],[-38.7,54.9],[-36.9,54.3],[-36.7,51.3],[-36.4,49.4],[-34.2,65.8],[-33.7,69.8],[-34.5,66.2],[-34.8,63.8],[-34.2,62.0],[-33.7,57.5],[-34.0,55.6],[-32.9,58.5],[-32.5,59.4],[-31.9,66.5],[-32.2,65.0],[-31.6,67.1],[-31.2,65.0],[-30.2,67.5],[-29.9,64.4],[-29.3,66.4],[-28.1,70.2],[-28.5,72.5],[-27.2,73.0],[-26.9,72.1],[-26.3,69.5],[-25.6,66.8],[-26.5,65.6],[-27.1,64.6],[-26.8,62.3],[-26.2,59.4],[-25.9,58.1],[-26.8,54.9],[-27.6,56.4],[-28.2,57.4],[-31.1,60.8],[-30.9,59.7],[-31.2,57.9],[-30.2,61.4],[-29.3,61.4],[-29.0,60.4],[-30.2,55.4],[-31.6,52.5],[-31.6,49.8],[-30.3,49.7],[-32.2,47.8],[-28.3,52.9],[-23.1,73.9],[-22.7,72.5],[-21.9,70.5],[-20.5,70.7],[-20.1,68.6],[-18.2,67.7],[-19.7,65.4],[-20.4,66.2],[-18.7,64.8],[-20.2,73.1],[-22.4,80.3],[-21.9,79.9],[-22.6,77.7],[-21.9,74.9],[-21.5,76.9],[-25.3,64.5],[-23.9,65.2],[-25.0,63.5],[-23.8,63.2],[-23.1,59.1],[-23.5,57.3],[-23.1,54.1],[-22.7,55.9],[-22.0,56.6],[-21.6,53.0],[-21.0,55.6],[-22.7,51.3],[-23.9,51.2],[-25.1,51.1],[-25.3,48.4],[-26.1,48.0],[-19.9,59.1],[-18.4,59.7],[-16.9,58.9],[-16.3,55.7],[-15.8,55.0],[-17.6,56.6],[-17.0,51.9],[-16.4,53.1],[-16.0,51.0],[-18.1,63.5],[-17.1,61.8],[-17.3,78.9],[-17.0,79.7],[-16.7,76.3],[-16.3,73.3],[-15.2,77.2],[-15.1,75.9],[-16.4,70.4],[-15.8,67.7],[-14.6,67.7],[-13.6,66.8],[-13.2,67.7],[-12.9,70.4],[-12.6,68.6],[-11.7,66.2],[-11.9,63.7],[-13.9,62.6],[-14.9,63.7],[-14.7,64.8],[-14.4,70.5],[-14.9,72.7],[-15.0,74.2],[-14.1,70.9],[-12.9,71.2],[-11.8,77.4],[-12.0,80.6],[-12.5,79.0],[-11.5,83.3],[-11.2,82.1],[-10.6,79.3],[-10.2,78.6],[-9.7,76.9],[-11.2,76.9],[-10.3,74.2],[-9.7,72.5],[-8.8,74.9],[-9.3,71.5],[-9.0,69.8],[-8.6,69.0],[-7.9,73.2],[-7.3,74.7],[-6.7,74.4],[-8.0,68.6],[-7.3,69.4],[-6.5,68.1],[-7.8,65.6],[-7.6,63.2],[-6.8,63.5],[-6.6,62.4],[-5.9,63.7],[-4.2,76.3],[-4.1,73.6],[-2.8,72.3],[-2.6,74.9],[-2.8,78.8],[-3.0,79.9],[-3.0,81.9],[-3.1,83.4],[-1.6,83.7],[-1.6,81.3],[-1.6,80.5],[-1.3,76.1],[-0.1,82.6],[0.0,80.7],[0.1,71.5],[-1.1,68.7],[-2.4,68.7],[-3.4,68.2],[-4.4,66.8],[-5.0,66.2],[-5.9,65.0],[-7.6,84.6],[-7.1,82.0],[-8.0,82.4],[-8.8,79.6],[-8.3,77.5],[-9.6,79.9],[-10.1,77.5],[-7.6,60.1],[-8.3,59.2],[-8.8,57.8],[-10.3,59.8],[-11.8,59.5],[-11.1,57.5],[-11.6,57.0],[-12.6,55.9],[-12.3,53.6],[-12.7,51.1],[-11.5,52.9],[-10.4,53.1],[-9.5,49.8],[-8.7,49.6],[-9.8,52.1],[-11.1,51.3],[-7.1,57.9],[-6.5,55.7],[-4.8,56.9],[-6.4,53.7],[-6.3,51.7],[-5.6,50.0],[-4.8,55.4],[-4.2,51.2],[-3.0,58.9],[-2.8,56.6],[-3.0,55.7],[-2.4,55.4],[-1.8,54.3],[-1.8,57.4],[-1.9,60.1],[-0.8,60.5],[-0.1,59.7],[0.1,52.9],[-0.8,51.3],[-2.5,53.2],[-2.7,51.6]];

// upper middle band, right of centre  [x, y]
const upperMidRight = [[3.1,96.9],[3.1,95.3],[4.9,99.2],[4.9,97.1],[4.8,95.3],[6.8,99.7],[8.4,98.0],[8.3,96.1],[3.0,89.8],[3.0,88.4],[4.5,89.4],[4.5,86.8],[6.2,89.6],[6.2,87.6],[7.8,89.7],[7.5,86.0],[4.8,92.3],[11.4,94.7],[11.6,93.3],[13.6,97.2],[13.1,93.9],[12.9,91.7],[14.3,89.8],[14.1,89.2],[14.9,94.1],[16.3,92.5],[15.4,97.9],[15.8,89.6],[15.5,87.6],[15.4,86.4],[10.6,86.8],[11.9,85.3],[11.8,82.7],[13.4,83.4],[14.3,84.3],[19.9,92.9],[20.8,97.1],[22.3,94.4],[21.9,95.3],[22.4,91.7],[22.4,89.2],[23.5,93.5],[23.9,95.7],[25.7,95.9],[23.0,85.3],[23.2,86.0],[18.5,86.2],[17.3,80.5],[18.7,80.1],[19.5,78.3],[20.6,77.0],[21.4,78.7],[20.7,75.5],[26.8,88.2],[27.1,86.4],[28.6,93.5],[28.3,92.0],[30.5,92.8],[29.9,86.0],[31.1,89.6],[31.4,90.3],[32.0,92.7],[34.4,93.8],[31.5,86.4],[28.5,78.7],[30.2,81.6],[30.8,79.3],[32.6,79.9],[31.9,76.9],[33.6,79.1],[34.3,76.3],[34.7,77.5],[32.9,74.4],[33.3,73.7],[33.7,72.3],[36.2,89.5],[36.8,89.8],[37.4,91.7],[37.1,86.4],[36.1,79.3],[38.7,90.3],[35.6,76.3],[37.7,83.7],[39.8,84.5],[41.6,88.4],[42.4,90.0],[43.2,83.7],[45.3,83.7],[46.7,87.3],[47.0,85.2],[45.3,87.9],[43.6,84.4],[44.5,80.5],[45.1,78.3],[41.2,79.9],[40.9,78.7],[39.5,76.6],[43.5,76.3],[43.3,74.2],[44.5,75.9],[47.2,80.9],[49.2,77.5],[49.5,74.7],[51.6,75.1],[53.1,84.0],[53.0,80.9],[52.7,74.5],[54.9,77.5],[56.5,79.9],[56.6,73.7],[56.5,70.6],[53.0,77.7],[2.5,76.3],[2.8,70.6],[3.8,72.1],[4.2,69.2],[4.8,66.8],[5.2,65.0],[6.0,66.0],[5.7,67.7],[5.9,64.9],[2.6,60.8],[3.3,61.1],[2.2,56.7],[4.0,56.7],[5.1,56.3],[7.3,56.9],[7.6,53.5],[9.1,73.9],[9.2,70.9],[9.9,71.5],[12.6,72.9],[13.0,69.4],[12.5,66.8],[10.3,68.4],[10.6,66.2],[11.7,62.9],[12.8,59.3],[13.5,63.2],[14.5,60.8],[15.5,62.0],[15.1,57.9],[16.0,56.3],[17.2,53.5],[16.4,57.9],[18.1,56.8],[19.0,53.7],[19.0,49.6],[20.1,52.5],[17.5,63.2],[18.5,65.6],[19.6,63.2],[21.1,66.8],[22.3,68.0],[22.7,72.7],[24.4,70.9],[25.3,73.7],[26.2,70.4],[24.4,66.8],[25.6,63.8],[27.4,60.8],[28.0,58.7],[28.9,61.1],[29.9,59.4],[31.1,57.3],[32.0,55.5],[30.5,53.1],[28.4,53.1],[26.2,50.7],[24.4,53.7],[22.9,56.1],[22.6,60.2],[22.3,50.1],[20.8,52.5],[34.4,66.8],[35.3,64.4],[36.2,62.0],[37.1,66.8],[38.4,61.4],[38.9,59.7],[40.1,62.6],[40.7,61.4],[42.4,64.4],[43.8,63.2],[45.0,65.6],[46.1,66.8],[46.8,60.8],[45.9,58.5],[46.5,54.9],[43.8,56.1],[42.6,53.7],[41.3,56.1],[40.1,57.9],[38.9,53.1],[37.7,51.9],[36.2,53.7],[35.3,53.1],[49.2,70.9],[50.1,72.7],[51.0,66.8],[51.9,63.2],[52.8,68.6],[53.4,56.1],[54.9,56.1],[54.6,53.7],[56.2,62.0],[56.5,66.2],[49.8,57.3],[48.0,59.7],[50.1,52.5],[52.2,50.1],[54.0,48.5],[45.0,50.1],[43.2,52.5],[40.7,51.9],[35.3,50.1]];

// lower middle band, left of centre  [x, y]
const lowerMidLeft = [[-54.3,-50.9],[-52.9,-49.7],[-51.7,-52.1],[-50.2,-55.0],[-50.5,-56.2],[-53.6,-58.6],[-52.6,-59.8],[-51.9,-61.0],[-51.3,-62.2],[-54.5,-61.0],[-52.9,-62.2],[-52.3,-68.7],[-52.0,-69.9],[-51.4,-71.7],[-50.2,-72.3],[-53.9,-72.8],[-54.5,-75.2],[-53.6,-77.6],[-54.8,-79.4],[-53.2,-83.5],[-51.7,-84.1],[-50.2,-81.8],[-48.7,-75.8],[-48.5,-69.9],[-48.2,-62.7],[-47.2,-52.6],[-46.9,-54.4],[-46.3,-53.2],[-45.1,-47.9],[-44.5,-59.2],[-44.0,-57.4],[-43.9,-61.0],[-43.0,-58.0],[-42.1,-65.7],[-42.4,-70.5],[-41.5,-68.1],[-40.6,-71.7],[-39.6,-67.5],[-40.0,-65.7],[-40.9,-64.5],[-40.0,-62.2],[-38.4,-59.8],[-37.5,-57.4],[-36.6,-59.8],[-35.4,-62.2],[-34.5,-56.2],[-33.9,-58.6],[-35.1,-55.0],[-36.6,-54.4],[-38.7,-55.0],[-40.3,-56.8],[-42.4,-59.8],[-43.3,-63.3],[-45.1,-65.1],[-46.3,-66.9],[-47.8,-74.0],[-47.5,-77.6],[-46.9,-81.2],[-46.3,-78.8],[-45.4,-76.4],[-44.2,-74.6],[-43.3,-69.3],[-44.8,-71.7],[-45.7,-84.7],[-44.8,-87.7],[-42.7,-85.3],[-41.8,-87.7],[-41.2,-87.1],[-42.1,-82.4],[-40.6,-85.3],[-38.4,-72.3],[-37.5,-73.4],[-37.2,-76.4],[-36.6,-74.0],[-36.0,-78.2],[-37.8,-79.4],[-38.7,-76.4],[-36.6,-87.7],[-35.4,-88.9],[-34.2,-91.9],[-33.3,-93.6],[-38.1,-91.9],[-35.1,-81.2],[-33.9,-72.3],[-33.0,-74.0],[-32.7,-77.6],[-32.1,-81.2],[-32.4,-85.9],[-31.5,-83.5],[-30.6,-75.2],[-30.3,-74.0],[-29.4,-74.0],[-28.8,-71.7],[-28.2,-70.5],[-28.8,-66.3],[-27.3,-64.5],[-26.4,-66.3],[-25.4,-62.7],[-24.5,-65.1],[-23.3,-61.6],[-22.7,-60.4],[-21.8,-58.0],[-20.6,-55.6],[-19.7,-56.8],[-23.3,-68.7],[-24.2,-70.5],[-25.1,-68.1],[-26.4,-69.3],[-27.0,-68.1],[-28.2,-62.7],[-30.9,-78.8],[-30.3,-82.4],[-29.1,-80.0],[-28.8,-82.4],[-27.9,-94.8],[-25.1,-91.3],[-24.2,-88.9],[-23.9,-86.5],[-22.7,-86.5],[-22.1,-86.5],[-23.3,-82.4],[-22.4,-76.4],[-21.2,-79.4],[-20.3,-77.6],[-20.0,-72.8],[-19.1,-71.7],[-18.5,-69.3],[-17.9,-66.9],[-17.3,-65.7],[-16.7,-62.2],[-16.1,-61.6],[-15.2,-57.4],[-14.9,-56.2],[-17.6,-59.8],[-16.7,-55.6],[-12.8,-55.0],[-12.1,-56.2],[-11.8,-62.2],[-12.5,-65.1],[-13.1,-71.7],[-13.7,-74.0],[-14.6,-76.4],[-15.2,-78.8],[-16.1,-81.2],[-17.0,-82.4],[-17.6,-85.9],[-18.2,-90.7],[-19.1,-95.4],[-18.5,-94.2],[-17.9,-97.2],[-15.8,-88.9],[-14.9,-91.9],[-13.1,-85.9],[-12.1,-83.0],[-11.5,-80.6],[-10.6,-76.4],[-10.0,-74.0],[-9.4,-68.7],[-8.8,-66.9],[-8.2,-63.3],[-7.6,-61.0],[-6.4,-55.6],[-5.8,-57.4],[-4.6,-56.2],[-4.3,-63.3],[-4.9,-65.1],[-5.5,-66.9],[-6.4,-70.5],[-7.3,-76.4],[-7.6,-79.4],[-8.5,-83.5],[-9.4,-85.9],[-10.0,-89.5],[-10.6,-96.0],[-9.4,-93.0],[-8.2,-89.5],[-7.3,-97.8],[-6.4,-95.4],[-5.5,-93.6],[-4.6,-90.7],[-4.0,-83.5],[-3.1,-81.2],[-2.8,-78.8],[-2.2,-76.4],[-1.9,-74.0],[-1.6,-68.7],[-1.0,-65.7],[-0.4,-62.2],[-0.4,-57.4],[-0.1,-52.6],[0.5,-49.1],[0.8,-47.9],[0.5,-59.8],[0.8,-66.9],[0.8,-71.7],[0.8,-75.8],[-0.1,-82.4],[-0.4,-87.1],[-0.4,-93.0],[-0.1,-99.0],[-1.9,-94.2],[-1.9,-90.7],[-3.7,-93.0],[-3.7,-98.4],[-3.1,-72.8],[-2.8,-71.7]];

// lower middle band, right of centre  [x, y]
const lowerMidRight = [[2.4,-50.9],[3.3,-51.5],[4.2,-51.7],[3.0,-52.6],[2.4,-58.6],[3.9,-58.0],[4.5,-58.6],[3.1,-65.1],[4.6,-65.7],[5.1,-63.3],[6.0,-62.2],[6.3,-65.1],[7.2,-52.6],[8.0,-52.6],[8.6,-54.4],[8.4,-56.2],[7.8,-57.2],[8.7,-59.2],[9.6,-56.2],[10.2,-57.4],[11.7,-50.9],[12.3,-53.2],[13.2,-54.4],[14.1,-56.2],[14.3,-58.6],[14.7,-59.8],[15.4,-60.4],[15.7,-62.2],[14.5,-63.3],[15.2,-66.5],[16.6,-66.9],[17.6,-54.4],[18.1,-55.6],[18.8,-56.2],[19.0,-58.6],[19.6,-60.0],[20.3,-54.4],[21.4,-59.2],[22.0,-61.0],[22.9,-60.4],[22.3,-63.3],[20.9,-65.1],[22.6,-57.4],[24.4,-60.4],[25.3,-62.2],[26.1,-55.6],[26.6,-54.4],[27.4,-56.2],[28.0,-58.6],[29.3,-59.8],[29.6,-57.4],[30.3,-52.6],[30.9,-55.0],[31.7,-56.2],[32.9,-59.8],[33.8,-61.0],[34.6,-59.8],[35.5,-61.6],[36.2,-62.2],[36.7,-65.7],[38.0,-63.3],[38.6,-60.4],[36.8,-55.6],[36.5,-52.6],[34.7,-51.5],[33.8,-53.8],[38.3,-52.6],[39.5,-55.0],[40.4,-51.5],[41.3,-52.1],[42.9,-58.6],[43.8,-62.2],[44.5,-65.1],[45.9,-62.2],[47.1,-65.7],[48.0,-66.9],[49.2,-62.2],[49.8,-61.0],[50.7,-64.5],[51.9,-62.2],[52.8,-65.7],[54.6,-58.6],[55.8,-62.2],[56.2,-55.0],[57.1,-57.4],[57.7,-59.8],[56.5,-47.9],[53.1,-51.5],[52.2,-56.2],[48.6,-56.2],[46.2,-53.2],[43.8,-52.6],[45.6,-71.7],[46.5,-75.2],[47.4,-74.0],[45.0,-76.4],[44.5,-78.8],[43.8,-83.5],[45.0,-85.9],[45.9,-82.4],[43.2,-66.9],[42.2,-69.3],[41.3,-71.7],[40.7,-68.1],[39.5,-74.0],[40.1,-76.4],[38.9,-78.2],[37.7,-80.0],[37.1,-82.4],[38.0,-83.5],[38.4,-85.9],[37.1,-85.9],[36.2,-83.5],[35.3,-81.2],[34.4,-78.8],[34.8,-76.4],[35.9,-74.0],[35.0,-72.3],[32.9,-75.2],[32.0,-78.8],[31.4,-83.5],[30.8,-82.4],[29.9,-83.5],[29.3,-84.7],[29.0,-86.5],[28.3,-88.9],[29.6,-90.7],[31.1,-89.5],[32.9,-85.9],[33.1,-90.7],[31.7,-76.4],[30.5,-74.0],[29.4,-72.8],[29.9,-69.3],[31.4,-67.5],[32.3,-69.3],[33.2,-66.3],[28.0,-74.6],[27.4,-76.4],[26.5,-78.8],[25.6,-80.0],[25.0,-82.4],[24.4,-85.9],[24.1,-88.3],[25.0,-90.7],[25.9,-91.9],[26.2,-94.2],[23.8,-94.8],[23.5,-93.0],[22.9,-89.5],[22.0,-90.7],[22.3,-85.9],[20.8,-83.5],[20.2,-82.4],[19.6,-77.6],[18.7,-76.4],[17.8,-75.2],[19.0,-72.8],[19.9,-74.0],[20.8,-75.2],[22.3,-76.4],[22.0,-73.4],[22.9,-70.5],[24.4,-71.7],[25.5,-74.0],[26.2,-76.4],[28.0,-69.3],[27.1,-66.9],[25.9,-65.7],[24.4,-68.1],[18.1,-72.8],[16.6,-71.7],[15.7,-69.3],[14.1,-74.0],[13.5,-70.5],[12.3,-69.9],[11.1,-68.1],[10.5,-71.7],[10.2,-74.0],[11.1,-76.4],[12.6,-81.2],[12.3,-83.5],[11.7,-85.9],[12.6,-88.3],[12.9,-90.7],[12.0,-93.0],[13.5,-94.2],[13.8,-98.4],[14.7,-93.6],[16.0,-90.7],[17.2,-89.5],[16.6,-87.1],[15.7,-88.3],[15.4,-85.9],[16.0,-83.5],[17.2,-82.4],[18.4,-84.7],[19.6,-85.9],[20.2,-88.3],[17.5,-92.5],[16.6,-95.4],[8.7,-83.5],[8.1,-85.9],[7.2,-88.9],[5.7,-87.7],[6.0,-90.7],[5.1,-94.2],[4.8,-96.6],[5.7,-96.0],[6.6,-97.8],[7.5,-94.2],[9.3,-90.7],[9.9,-97.2],[9.0,-85.9],[7.8,-82.4],[6.9,-83.5],[5.4,-81.2],[4.2,-82.4],[3.9,-84.7],[4.5,-91.9],[3.6,-76.4],[4.2,-77.6],[5.7,-74.0],[7.5,-72.3],[6.6,-69.9],[8.7,-69.9],[9.6,-68.7],[3.3,-71.7]];

// dense central cluster, read as rings: [radius, [angles in degrees]]
const centerRings = [
 [0.3,[45,225]],
 [0.8,[10,75,130,200,260,320]],
 [1.6,[5,35,68,98,127,160,190,221,252,283,313,342]],
 [2.4,[2,22,41,60,81,100,119,140,160,179,200,221,240,259,280,300,319,340]],
 [3.2,[8,24,40,57,73,90,106,122,139,155,172,188,204,221,237,254,270,286,303,319,336,352]],
 [4.0,[3,17,31,44,58,72,86,100,113,127,141,155,169,182,196,210,224,238,251,265,279,293,307,320,334,348]],
 [4.5,[9,22,35,48,61,74,87,99,112,125,138,151,164,177,189,202,215,228,241,254,267,279,292,305,318,331,344,356]],
 [5.0,[6,17,29,42,53,66,77,90,101,114,126,137,150,161,174,185,198,209,222,234,245,258,269,282,293,306,317,330,341,354]],
 [5.6,[4,15,26,38,49,60,71,83,94,105,116,128,139,150,161,173,184,195,206,218,229,240,251,263,274,285,296,308,319,330,341,353]],
 [6.2,[2,13,23,34,45,55,66,76,87,98,108,119,129,140,151,161,172,182,193,204,214,225,235,246,257,267,278,288,299,310,320,331,341,352]],
 [6.9,[8,18,28,39,49,59,70,80,90,100,111,121,131,142,152,162,172,183,193,203,214,224,234,245,255,265,275,286,296,306,317,327,337,347,357]],
 [7.5,[5,14,25,34,45,54,65,74,85,94,105,114,125,134,145,154,165,174,185,194,205,214,225,234,245,254,265,274,285,294,305,314,325,334,345,354]],
 [8.1,[3,13,23,32,42,52,61,71,81,90,100,110,120,129,139,149,158,168,178,187,197,207,216,226,236,246,255,265,275,284,294,304,313,323,333,342,352]],
 [8.8,[1,10,20,29,39,48,58,67,77,86,96,105,115,124,134,143,153,162,172,181,191,200,210,219,229,238,248,257,267,276,286,295,305,314,324,333,343,352]],
 [9.5,[6,15,24,34,43,52,61,70,80,89,98,107,116,126,135,144,153,162,172,181,190,199,208,218,227,236,245,254,264,273,282,291,300,310,319,328,337,346,356]],
 [10.2,[4,13,22,31,40,49,58,67,76,85,94,103,112,121,130,139,148,157,166,175,184,193,202,211,220,229,238,247,256,265,274,283,292,301,310,319,328,337,346,355]],
 [10.9,[1,10,19,28,36,45,54,63,71,80,89,98,106,115,124,133,141,150,159,168,176,185,194,203,211,220,229,238,246,255,264,273,281,290,299,308,316,325,334,343,351]],
 [11.6,[7,15,24,32,41,50,58,67,75,84,93,101,110,118,127,136,144,153,161,170,179,187,196,204,213,222,230,239,247,256,265,273,282,290,299,308,316,325,333,342,351,359]],
 [12.3,[5,13,22,30,38,47,55,63,72,80,88,97,105,114,122,130,139,147,155,164,172,180,189,197,206,214,222,231,239,247,256,264,273,281,289,298,306,314,323,331,339,348,356]],
 [13.0,[2,10,18,27,35,43,51,59,67,76,84,92,100,108,116,125,133,141,149,157,165,174,182,190,198,206,214,223,231,239,247,255,263,272,280,288,296,304,312,321,329,337,345,353]],
 [13.8,[3,11,19,27,35,43,51,59,67,75,83,91,99,107,115,123,131,139,147,155,163,171,179,187,195,203,211,219,227,235,243,251,259,267,275,283,291,299,307,315,323,331,339,347,355]],
 [14.5,[5,13,21,28,36,44,52,60,67,75,83,91,99,106,114,122,130,138,145,153,161,169,177,184,192,200,208,216,223,231,239,247,255,262,270,278,286,294,301,309,317,325,333,340,348,356]],
 [15.2,[6,14,21,29,37,44,52,60,67,75,83,90,98,106,113,121,129,136,144,152,159,167,175,182,190,198,205,213,221,228,236,244,251,259,267,274,282,290,297,305,313,320,328,336,343,351,358]],
 [16.0,[1,8,16,23,31,38,46,53,61,68,76,83,91,98,106,113,121,128,136,143,151,158,166,173,181,188,196,203,211,218,226,233,241,248,256,263,271,278,286,293,301,308,316,323,331,338,346,353]],
 [16.8,[2,9,17,24,31,39,46,53,61,68,75,83,90,97,105,112,119,127,134,141,149,156,163,171,178,185,193,200,207,215,222,229,237,244,251,259,266,273,281,288,295,303,310,317,325,332,339,347,354]],
 [17.6,[4,11,18,25,33,40,47,54,61,69,76,83,90,97,105,112,119,126,133,141,148,155,162,169,177,184,191,198,205,213,220,227,234,241,249,256,263,270,277,285,292,299,306,313,321,328,335,342,349,357]],
 [18.4,[5,12,19,26,33,40,47,54,61,68,75,82,90,97,104,111,118,125,132,139,146,153,160,167,174,181,188,196,203,210,217,224,231,238,245,252,259,266,273,280,287,294,302,309,316,323,330,337,344,351,358]],
 [19.2,[2,9,16,23,30,37,44,50,57,64,71,78,85,92,99,106,113,120,126,133,140,147,154,161,168,175,182,189,196,202,209,216,223,230,237,244,251,258,265,272,278,285,292,299,306,313,320,327,334,341,348,354]],
 [20.1,[1,8,14,21,28,34,41,48,54,61,68,74,81,88,94,101,108,114,121,128,134,141,148,154,161,168,174,181,188,194,201,208,214,221,228,234,241,248,254,261,268,274,281,288,294,301,308,314,321,328,334,341,348,354]],
 [21.0,[3,10,16,22,29,35,42,48,54,61,67,74,80,86,93,99,106,112,118,125,131,138,144,150,157,163,170,176,182,189,195,202,208,214,221,227,234,240,246,253,259,266,272,278,285,291,298,304,310,317,323,330,336,342,349,355]]
];

// inner area outside the centre, read as radial spokes: [angle in degrees, [radii]]
const spokes = [
 [0.8,[23,26,29.5,32,35.5,38,41.5,44,47.5,50,52.5,55,56.5]],
 [3.5,[24,27,30,33.5,36,39.5,42,45.5,48,51,54,56.5]],
 [6.9,[22.5,25.5,28,31.5,34,37.5,40,43,46.5,49,52,54.5,57]],
 [9.4,[23.5,26.5,29,32.5,35,38.5,41,44.5,47,50.5,53,55.5,57.5]],
 [12.8,[24.5,27.5,30.5,33,36.5,39,42.5,45,48.5,51,54,56.5]],
 [15.3,[22,25,28.5,31,34.5,37,40.5,43,46.5,49,52.5,55,57.5]],
 [18.6,[23,26,29,32.5,35,38.5,41,44.5,47,50.5,53,55.5,58]],
 [21.4,[24,27.5,30,33.5,36,39.5,42,45.5,48,51.5,54,56.5,59.5]],
 [24.1,[22.5,25.5,28.5,31,34.5,37,40.5,43,46.5,49,52.5,55,58,61]],
 [27.5,[23.5,26.5,29.5,32,35.5,38,41.5,44,47.5,50,53.5,56,59,62]],
 [30.2,[24,27,30.5,33,36.5,39,42.5,45,48.5,51,54.5,57,60.5,63.5]],
 [33.6,[22.5,25.5,28,31.5,34,37.5,40,43.5,46,49.5,52,55.5,58,61.5,64.5]],
 [36.1,[23,26,29.5,32,35.5,38,41.5,44,47.5,50,53.5,56,59.5,62,65]],
 [39.4,[24.5,27.5,30,33.5,36,39.5,42,45.5,48,51.5,54,57.5,60,63.5,66.5]],
 [42.2,[22,25,28.5,31,34.5,37,40.5,43,46.5,49,52.5,55,58.5,61,64.5,67,70.5]],
 [45.0,[23.5,26.5,29,32.5,35,38.5,41,44.5,47,50.5,53,56.5,59,62.5,66]],
 [48.3,[24,27,30.5,33,36.5,39,42.5,45,48.5,51,54.5,57,60.5,63]],
 [50.9,[22.5,25.5,28,31.5,34,37.5,40,43.5,46,49.5,52,55.5,58,61]],
 [54.2,[23,26.5,29,32.5,35,38.5,41,44.5,47,50.5,53,56.5]],
 [57.0,[24.5,27,30.5,33,36.5,39,42.5,45,48.5,51,54.5]],
 [59.8,[22,25.5,28,31.5,34,37.5,40,43.5,46,49.5,52,55]],
 [63.1,[23.5,26,29.5,32,35.5,38,41.5,44,47.5,50,53]],
 [65.7,[24,27.5,30,33.5,36,39.5,42,45.5,48,51]],
 [69.0,[22.5,25,28.5,31,34.5,37,40.5,43,46.5,49,51.5]],
 [71.8,[23,26.5,29,32.5,35,38.5,41,44.5,47,50]],
 [74.5,[24.5,27,30.5,33,36.5,39,42.5,45,48]],
 [77.9,[22,25.5,28,31.5,34,37.5,40,43.5,46,49]],
 [80.4,[23.5,26,29.5,32,35.5,38,41.5,44,47.5]],
 [83.7,[24,27.5,30,33.5,36,39.5,42,45.5,48]],
 [86.5,[22.5,25,28.5,31,34.5,37,40.5,43,46.5]],
 [89.3,[23,26.5,29,32.5,35,38.5,41,44.5,47.5]],
 [92.6,[24.5,27,30.5,33,36.5,39,42.5,45,48]],
 [95.2,[22,25.5,28,31.5,34,37.5,40,43.5,46.5]],
 [98.5,[23.5,26,29.5,32,35.5,38,41.5,44,47.5]],
 [101.3,[24,27.5,30,33.5,36,39.5,42,45.5,48.5]],
 [104.0,[22.5,25,28.5,31,34.5,37,40.5,43,46.5,49.5]],
 [107.4,[23,26.5,29,32.5,35,38.5,41,44.5,47,50]],
 [110.1,[24.5,27,30.5,33,36.5,39,42.5,45,48.5,51]],
 [113.3,[22,25.5,28,31.5,34,37.5,40,43.5,46,49.5,52]],
 [116.0,[23.5,26,29.5,32,35.5,38,41.5,44,47.5,50,53]],
 [118.9,[24,27.5,30,33.5,36,39.5,42,45.5,48,51.5,54]],
 [122.2,[22.5,25,28.5,31,34.5,37,40.5,43,46.5,49,52.5,55.5]],
 [124.8,[23,26.5,29,32.5,35,38.5,41,44.5,47,50.5,53,56.5]],
 [128.1,[24.5,27,30.5,33,36.5,39,42.5,45,48.5,51,54.5,57,60]],
 [130.9,[22,25.5,28,31.5,34,37.5,40,43.5,46,49.5,52,55.5,58,61.5]],
 [133.6,[23.5,26,29.5,32,35.5,38,41.5,44,47.5,50,53.5,56,59.5,62,65.5]],
 [136.9,[24,27.5,30,33.5,36,39.5,42,45.5,48,51.5,54,57.5,60,63.5,66,69.5]],
 [139.5,[22.5,25,28.5,31,34.5,37,40.5,43,46.5,49,52.5,55,58.5,61,64.5,67.5]],
 [142.8,[23,26.5,29,32.5,35,38.5,41,44.5,47,50.5,53,56.5,59,62.5,65.5]],
 [145.6,[24.5,27,30.5,33,36.5,39,42.5,45,48.5,51,54.5,57,60.5,63]],
 [148.3,[22,25.5,28,31.5,34,37.5,40,43.5,46,49.5,52,55.5,58,61]],
 [151.7,[23.5,26,29.5,32,35.5,38,41.5,44,47.5,50,53.5,56,59]],
 [154.3,[24,27.5,30,33.5,36,39.5,42,45.5,48,51.5,54,57.5]],
 [157.6,[22.5,25,28.5,31,34.5,37,40.5,43,46.5,49,52.5,55.5]],
 [160.4,[23,26.5,29,32.5,35,38.5,41,44.5,47,50.5,53,56]],
 [163.1,[24.5,27,30.5,33,36.5,39,42.5,45,48.5,51,54]],
 [166.5,[22,25.5,28,31.5,34,37.5,40,43.5,46,49.5,52.5]],
 [169.2,[23.5,26,29.5,32,35.5,38,41.5,44,47.5,50,53]],
 [172.4,[24,27.5,30,33.5,36,39.5,42,45.5,48,51.5]],
 [175.1,[22.5,25,28.5,31,34.5,37,40.5,43,46.5,49,52]],
 [178.0,[23,26.5,29,32.5,35,38.5,41,44.5,47,50.5,53]],
 [181.3,[24.5,27,30.5,33,36.5,39,42.5,45,48.5,51]],
 [183.9,[22,25.5,28,31.5,34,37.5,40,43.5,46,49.5,52.5]],
 [187.2,[23.5,26,29.5,32,35.5,38,41.5,44,47.5,50,53]],
 [190.0,[24,27.5,30,33.5,36,39.5,42,45.5,48,51.5]],
 [192.7,[22.5,25,28.5,31,34.5,37,40.5,43,46.5,49,52.5]],
 [196.1,[23,26.5,29,32.5,35,38.5,41,44.5,47,50.5,53.5]],
 [198.8,[24.5,27,30.5,33,36.5,39,42.5,45,48.5,51,54,56.5]],
 [202.0,[22,25.5,28,31.5,34,37.5,40,43.5,46,49.5,52,55.5]],
 [204.7,[23.5,26,29.5,32,35.5,38,41.5,44,47.5,50,53.5,56.5]],
 [207.6,[24,27.5,30,33.5,36,39.5,42,45.5,48,51.5,54,57.5]],
 [210.9,[22.5,25,28.5,31,34.5,37,40.5,43,46.5,49,52.5,55,58.5,61]],
 [213.5,[23,26.5,29,32.5,35,38.5,41,44.5,47,50.5,53,56.5,59,62.5]],
 [216.8,[24.5,27,30.5,33,36.5,39,42.5,45,48.5,51,54.5,57,60.5,63,66]],
 [219.6,[22,25.5,28,31.5,34,37.5,40,43.5,46,49.5,52,55.5,58,61.5,64,67.5]],
 [222.3,[23.5,26,29.5,32,35.5,38,41.5,44,47.5,50,53.5,56,59.5,62,65.5,68,71]],
 [225.7,[24,27.5,30,33.5,36,39.5,42,45.5,48,51.5,54,57.5,60,63.5,66.5]],
 [228.4,[22.5,25,28.5,31,34.5,37,40.5,43,46.5,49,52.5,55,58.5,61,64]],
 [231.6,[23,26.5,29,32.5,35,38.5,41,44.5,47,50.5,53,56.5,59.5]],
 [234.3,[24.5,27,30.5,33,36.5,39,42.5,45,48.5,51,54.5,57]],
 [237.2,[22,25.5,28,31.5,34,37.5,40,43.5,46,49.5,52,55]],
 [240.5,[23.5,26,29.5,32,35.5,38,41.5,44,47.5,50,53]],
 [243.1,[24,27.5,30,33.5,36,39.5,42,45.5,48,51.5]],
 [246.4,[22.5,25,28.5,31,34.5,37,40.5,43,46.5,49,52]],
 [249.2,[23,26.5,29,32.5,35,38.5,41,44.5,47,50]],
 [251.9,[24.5,27,30.5,33,36.5,39,42.5,45,48.5]],
 [255.3,[22,25.5,28,31.5,34,37.5,40,43.5,46,49]],
 [258.0,[23.5,26,29.5,32,35.5,38,41.5,44,47]],
 [261.2,[24,27.5,30,33.5,36,39.5,42,45.5,48]],
 [263.9,[22.5,25,28.5,31,34.5,37,40.5,43,46.5]],
 [266.8,[23,26.5,29,32.5,35,38.5,41,44.5,47.5]],
 [270.1,[24.5,27,30.5,33,36.5,39,42.5,45,48]],
 [272.7,[22,25.5,28,31.5,34,37.5,40,43.5,46.5]],
 [276.0,[23.5,26,29.5,32,35.5,38,41.5,44,47.5]],
 [278.8,[24,27.5,30,33.5,36,39.5,42,45.5,48]],
 [281.5,[22.5,25,28.5,31,34.5,37,40.5,43,46.5,49]],
 [284.9,[23,26.5,29,32.5,35,38.5,41,44.5,47,50]],
 [287.6,[24.5,27,30.5,33,36.5,39,42.5,45,48.5]],
 [290.8,[22,25.5,28,31.5,34,37.5,40,43.5,46,49.5]],
 [293.5,[23.5,26,29.5,32,35.5,38,41.5,44,47.5,50,52.5]],
 [296.4,[24,27.5,30,33.5,36,39.5,42,45.5,48,51.5]],
 [299.7,[22.5,25,28.5,31,34.5,37,40.5,43,46.5,49,52.5,55]],
 [302.3,[23,26.5,29,32.5,35,38.5,41,44.5,47,50.5,53,56]],
 [305.6,[24.5,27,30.5,33,36.5,39,42.5,45,48.5,51,54.5,57.5]],
 [308.4,[22,25.5,28,31.5,34,37.5,40,43.5,46,49.5,52,55.5,58,61]],
 [311.1,[23.5,26,29.5,32,35.5,38,41.5,44,47.5,50,53.5,56,59.5,62.5]],
 [314.5,[24,27.5,30,33.5,36,39.5,42,45.5,48,51.5,54,57.5,60,63.5,66.5]],
 [317.2,[22.5,25,28.5,31,34.5,37,40.5,43,46.5,49,52.5,55,58.5,61,64.5,67,70.5]],
 [320.4,[23,26.5,29,32.5,35,38.5,41,44.5,47,50.5,53,56.5,59,62.5,65,68]],
 [323.1,[24.5,27,30.5,33,36.5,39,42.5,45,48.5,51,54.5,57,60.5,63,65.5]],
 [326.0,[22,25.5,28,31.5,34,37.5,40,43.5,46,49.5,52,55.5,58,61.5,64]],
 [329.3,[23.5,26,29.5,32,35.5,38,41.5,44,47.5,50,53.5,56,59.5,62.5]],
 [331.9,[24,27.5,30,33.5,36,39.5,42,45.5,48,51.5,54,57.5,60,62.5]],
 [335.2,[22.5,25,28.5,31,34.5,37,40.5,43,46.5,49,52.5,55,58,61]],
 [338.0,[23,26.5,29,32.5,35,38.5,41,44.5,47,50.5,53,56,58.5,61]],
 [340.7,[24.5,27,30.5,33,36.5,39,42.5,45,48.5,51,54,56.5,59]],
 [344.1,[22,25.5,28,31.5,34,37.5,40,43.5,46,49.5,52.5,55,58]],
 [346.8,[23.5,26,29.5,32,35.5,38,41.5,44,47.5,50,53,55.5,58]],
 [350.0,[24,27.5,30,33.5,36,39.5,42,45.5,48,51.5,54,56.5]],
 [352.7,[22.5,25,28.5,31,34.5,37,40.5,43,46.5,49,52.5,55,57]],
 [355.6,[23,26.5,29,32.5,35,38.5,41,44.5,47,50.5,53.5,56]],
 [358.4,[24.5,27,30.5,33,36.5,39,42.5,45,48.5,51.5,54,56.5]]
];

// second set of spokes lying between the first ones: [angle in degrees, [radii]]
const spokesBetween = [
 [2.1,[21,24.5,27,30.5,33,36.5,39,42.5,45,48.5,51,54.5,57]],
 [5.2,[22,25,28,31.5,34,37,40,43.5,46,49,52,55.5]],
 [8.2,[20.5,23.5,26.5,29,32.5,35.5,38.5,41,44.5,47.5,50.5,53,56.5]],
 [11.1,[21.5,24,27.5,30,33.5,36,39.5,42,45.5,48,51.5,54,57.5]],
 [14.0,[22.5,26,28.5,32,34.5,38,40.5,44,46.5,50,52.5,56,58.5]],
 [17.0,[21,24.5,27,30.5,33,36.5,39,42.5,45,48.5,51,54.5,57]],
 [20.0,[22,25,28,31.5,34,37,40,43.5,46,49,52,55.5,58]],
 [22.8,[20.5,23.5,26.5,29,32.5,35.5,38.5,41,44.5,47.5,50.5,53,56.5,59.5]],
 [25.8,[21.5,24,27.5,30,33.5,36,39.5,42,45.5,48,51.5,54,57.5,60]],
 [28.9,[22.5,26,28.5,32,34.5,38,40.5,44,46.5,50,52.5,56,58.5,62,64.5]],
 [31.9,[21,24.5,27,30.5,33,36.5,39,42.5,45,48.5,51,54.5,57,60.5,63,66.5]],
 [34.8,[22,25,28,31.5,34,37,40,43.5,46,49,52,55.5,58,61,64,67.5]],
 [37.8,[20.5,23.5,26.5,29,32.5,35.5,38.5,41,44.5,47.5,50.5,53,56.5,59.5,62.5,65,68.5]],
 [40.8,[21.5,24,27.5,30,33.5,36,39.5,42,45.5,48,51.5,54,57.5,60,63.5,66,69.5]],
 [43.6,[22.5,26,28.5,32,34.5,38,40.5,44,46.5,50,52.5,56,58.5,62,64.5,68,70.5]],
 [46.6,[21,24.5,27,30.5,33,36.5,39,42.5,45,48.5,51,54.5,57,60.5,63,66.5]],
 [49.6,[22,25,28,31.5,34,37,40,43.5,46,49,52,55.5,58,61,64]],
 [52.5,[20.5,23.5,26.5,29,32.5,35.5,38.5,41,44.5,47.5,50.5,53,56.5,59.5]],
 [55.6,[21.5,24,27.5,30,33.5,36,39.5,42,45.5,48,51.5,54,57.5]],
 [58.4,[22.5,26,28.5,32,34.5,38,40.5,44,46.5,50,52.5,56]],
 [61.4,[21,24.5,27,30.5,33,36.5,39,42.5,45,48.5,51,54.5]],
 [64.4,[22,25,28,31.5,34,37,40,43.5,46,49,52]],
 [67.4,[20.5,23.5,26.5,29,32.5,35.5,38.5,41,44.5,47.5,50.5]],
 [70.4,[21.5,24,27.5,30,33.5,36,39.5,42,45.5,48,51.5]],
 [73.2,[22.5,26,28.5,32,34.5,38,40.5,44,46.5,50]],
 [76.2,[21,24.5,27,30.5,33,36.5,39,42.5,45,48.5]],
 [79.1,[22,25,28,31.5,34,37,40,43.5,46,49]],
 [82.0,[20.5,23.5,26.5,29,32.5,35.5,38.5,41,44.5,47.5]],
 [85.1,[21.5,24,27.5,30,33.5,36,39.5,42,45.5,48]],
 [87.9,[22.5,26,28.5,32,34.5,38,40.5,44,46.5]],
 [90.9,[21,24.5,27,30.5,33,36.5,39,42.5,45,48.5]],
 [93.9,[22,25,28,31.5,34,37,40,43.5,46]],
 [96.8,[20.5,23.5,26.5,29,32.5,35.5,38.5,41,44.5,47.5]],
 [99.9,[21.5,24,27.5,30,33.5,36,39.5,42,45.5,48]],
 [102.6,[22.5,26,28.5,32,34.5,38,40.5,44,46.5,50]],
 [105.7,[21,24.5,27,30.5,33,36.5,39,42.5,45,48.5]],
 [108.7,[22,25,28,31.5,34,37,40,43.5,46,49]],
 [111.7,[20.5,23.5,26.5,29,32.5,35.5,38.5,41,44.5,47.5,50.5]],
 [114.6,[21.5,24,27.5,30,33.5,36,39.5,42,45.5,48,51.5,54]],
 [117.4,[22.5,26,28.5,32,34.5,38,40.5,44,46.5,50,52.5]],
 [120.5,[21,24.5,27,30.5,33,36.5,39,42.5,45,48.5,51,54.5]],
 [123.5,[22,25,28,31.5,34,37,40,43.5,46,49,52,55.5,58]],
 [126.4,[20.5,23.5,26.5,29,32.5,35.5,38.5,41,44.5,47.5,50.5,53,56.5,59.5]],
 [129.5,[21.5,24,27.5,30,33.5,36,39.5,42,45.5,48,51.5,54,57.5,60]],
 [132.2,[22.5,26,28.5,32,34.5,38,40.5,44,46.5,50,52.5,56,58.5,62,64.5]],
 [135.2,[21,24.5,27,30.5,33,36.5,39,42.5,45,48.5,51,54.5,57,60.5,63,66.5,69]],
 [138.2,[22,25,28,31.5,34,37,40,43.5,46,49,52,55.5,58,61,64,67.5,70]],
 [141.1,[20.5,23.5,26.5,29,32.5,35.5,38.5,41,44.5,47.5,50.5,53,56.5,59.5,62.5,65,68.5]],
 [144.2,[21.5,24,27.5,30,33.5,36,39.5,42,45.5,48,51.5,54,57.5,60,63.5,66]],
 [147.0,[22.5,26,28.5,32,34.5,38,40.5,44,46.5,50,52.5,56,58.5,62]],
 [150.0,[21,24.5,27,30.5,33,36.5,39,42.5,45,48.5,51,54.5,57,60.5]],
 [153.0,[22,25,28,31.5,34,37,40,43.5,46,49,52,55.5,58]],
 [155.9,[20.5,23.5,26.5,29,32.5,35.5,38.5,41,44.5,47.5,50.5,53,56.5]],
 [159.0,[21.5,24,27.5,30,33.5,36,39.5,42,45.5,48,51.5,54,57.5]],
 [161.7,[22.5,26,28.5,32,34.5,38,40.5,44,46.5,50,52.5,56]],
 [164.8,[21,24.5,27,30.5,33,36.5,39,42.5,45,48.5,51,54.5]],
 [167.8,[22,25,28,31.5,34,37,40,43.5,46,49,52]],
 [170.8,[20.5,23.5,26.5,29,32.5,35.5,38.5,41,44.5,47.5,50.5,53]],
 [173.7,[21.5,24,27.5,30,33.5,36,39.5,42,45.5,48,51.5]],
 [176.6,[22.5,26,28.5,32,34.5,38,40.5,44,46.5,50,52.5]],
 [179.6,[21,24.5,27,30.5,33,36.5,39,42.5,45,48.5,51]],
 [182.6,[22,25,28,31.5,34,37,40,43.5,46,49,52]],
 [185.5,[20.5,23.5,26.5,29,32.5,35.5,38.5,41,44.5,47.5,50.5,53]],
 [188.6,[21.5,24,27.5,30,33.5,36,39.5,42,45.5,48,51.5,54]],
 [191.3,[22.5,26,28.5,32,34.5,38,40.5,44,46.5,50,52.5]],
 [194.4,[21,24.5,27,30.5,33,36.5,39,42.5,45,48.5,51,54.5]],
 [197.4,[22,25,28,31.5,34,37,40,43.5,46,49,52,55.5]],
 [200.4,[20.5,23.5,26.5,29,32.5,35.5,38.5,41,44.5,47.5,50.5,53,56.5]],
 [203.3,[21.5,24,27.5,30,33.5,36,39.5,42,45.5,48,51.5,54,57.5]],
 [206.2,[22.5,26,28.5,32,34.5,38,40.5,44,46.5,50,52.5,56,58.5]],
 [209.2,[21,24.5,27,30.5,33,36.5,39,42.5,45,48.5,51,54.5,57,60.5]],
 [212.2,[22,25,28,31.5,34,37,40,43.5,46,49,52,55.5,58,61]],
 [215.1,[20.5,23.5,26.5,29,32.5,35.5,38.5,41,44.5,47.5,50.5,53,56.5,59.5,62.5,65]],
 [218.2,[21.5,24,27.5,30,33.5,36,39.5,42,45.5,48,51.5,54,57.5,60,63.5,66]],
 [220.9,[22.5,26,28.5,32,34.5,38,40.5,44,46.5,50,52.5,56,58.5,62,64.5,68,70.5]],
 [224.0,[21,24.5,27,30.5,33,36.5,39,42.5,45,48.5,51,54.5,57,60.5,63,66.5,69]],
 [227.0,[22,25,28,31.5,34,37,40,43.5,46,49,52,55.5,58,61,64]],
 [230.0,[20.5,23.5,26.5,29,32.5,35.5,38.5,41,44.5,47.5,50.5,53,56.5,59.5,62.5]],
 [232.9,[21.5,24,27.5,30,33.5,36,39.5,42,45.5,48,51.5,54,57.5,60]],
 [235.7,[22.5,26,28.5,32,34.5,38,40.5,44,46.5,50,52.5,56,58.5]],
 [238.8,[21,24.5,27,30.5,33,36.5,39,42.5,45,48.5,51,54.5,57]],
 [241.8,[22,25,28,31.5,34,37,40,43.5,46,49,52]],
 [244.7,[20.5,23.5,26.5,29,32.5,35.5,38.5,41,44.5,47.5,50.5,53]],
 [247.8,[21.5,24,27.5,30,33.5,36,39.5,42,45.5,48,51.5]],
 [250.5,[22.5,26,28.5,32,34.5,38,40.5,44,46.5,50]],
 [253.6,[21,24.5,27,30.5,33,36.5,39,42.5,45,48.5]],
 [256.6,[22,25,28,31.5,34,37,40,43.5,46,49]],
 [259.6,[20.5,23.5,26.5,29,32.5,35.5,38.5,41,44.5,47.5]],
 [262.5,[21.5,24,27.5,30,33.5,36,39.5,42,45.5,48]],
 [265.3,[22.5,26,28.5,32,34.5,38,40.5,44,46.5]],
 [268.4,[21,24.5,27,30.5,33,36.5,39,42.5,45,48.5]],
 [271.4,[22,25,28,31.5,34,37,40,43.5,46]],
 [274.3,[20.5,23.5,26.5,29,32.5,35.5,38.5,41,44.5,47.5]],
 [277.4,[21.5,24,27.5,30,33.5,36,39.5,42,45.5,48]],
 [280.1,[22.5,26,28.5,32,34.5,38,40.5,44,46.5]],
 [283.2,[21,24.5,27,30.5,33,36.5,39,42.5,45,48.5]],
 [286.2,[22,25,28,31.5,34,37,40,43.5,46,49]],
 [289.2,[20.5,23.5,26.5,29,32.5,35.5,38.5,41,44.5,47.5,50.5]],
 [292.1,[21.5,24,27.5,30,33.5,36,39.5,42,45.5,48,51.5]],
 [294.9,[22.5,26,28.5,32,34.5,38,40.5,44,46.5,50,52.5]],
 [298.0,[21,24.5,27,30.5,33,36.5,39,42.5,45,48.5,51,54.5]],
 [301.0,[22,25,28,31.5,34,37,40,43.5,46,49,52,55.5]],
 [303.9,[20.5,23.5,26.5,29,32.5,35.5,38.5,41,44.5,47.5,50.5,53,56.5]],
 [307.0,[21.5,24,27.5,30,33.5,36,39.5,42,45.5,48,51.5,54,57.5,60]],
 [309.7,[22.5,26,28.5,32,34.5,38,40.5,44,46.5,50,52.5,56,58.5,62]],
 [312.8,[21,24.5,27,30.5,33,36.5,39,42.5,45,48.5,51,54.5,57,60.5,63,66.5]],
 [315.8,[22,25,28,31.5,34,37,40,43.5,46,49,52,55.5,58,61,64,67.5,70]],
 [318.8,[20.5,23.5,26.5,29,32.5,35.5,38.5,41,44.5,47.5,50.5,53,56.5,59.5,62.5,65,68.5]],
 [321.7,[21.5,24,27.5,30,33.5,36,39.5,42,45.5,48,51.5,54,57.5,60,63.5,66,69.5]],
 [324.5,[22.5,26,28.5,32,34.5,38,40.5,44,46.5,50,52.5,56,58.5,62,64.5,68]],
 [327.6,[21,24.5,27,30.5,33,36.5,39,42.5,45,48.5,51,54.5,57,60.5,63,66.5]],
 [330.6,[22,25,28,31.5,34,37,40,43.5,46,49,52,55.5,58,61,64]],
 [333.5,[20.5,23.5,26.5,29,32.5,35.5,38.5,41,44.5,47.5,50.5,53,56.5,59.5,62.5]],
 [336.6,[21.5,24,27.5,30,33.5,36,39.5,42,45.5,48,51.5,54,57.5,60]],
 [339.3,[22.5,26,28.5,32,34.5,38,40.5,44,46.5,50,52.5,56,58.5]],
 [342.4,[21,24.5,27,30.5,33,36.5,39,42.5,45,48.5,51,54.5,57]],
 [345.4,[22,25,28,31.5,34,37,40,43.5,46,49,52,55.5,58]],
 [348.4,[20.5,23.5,26.5,29,32.5,35.5,38.5,41,44.5,47.5,50.5,53,56.5]],
 [351.3,[21.5,24,27.5,30,33.5,36,39.5,42,45.5,48,51.5,54,57.5]],
 [354.1,[22.5,26,28.5,32,34.5,38,40.5,44,46.5,50,52.5,56]],
 [357.0,[21,24.5,27,30.5,33,36.5,39,42.5,45,48.5,51,54.5,57]]
];

// ---------- DRAWING ----------
const W = 1289, H = 681;
const plot = { left: 44, top: 18, right: 1272, bottom: 647 };
const rad = Math.PI / 180;

// polar readings -> cartesian values (thousands)
const ringPairs = centerRings.flatMap(([r, angs]) => angs.map(a => [r * Math.cos(a * rad), r * Math.sin(a * rad)]));
const spokeToPairs = list => list.flatMap(([a, rs]) => rs.map(r => [r * Math.cos(a * rad), r * Math.sin(a * rad)]));

const points = [].concat(
  outerUpperLeft, outerLowerLeft, outerUpperRight, outerLowerRight,
  upperMidLeft, upperMidRight, lowerMidLeft, lowerMidRight,
  spokeToPairs(spokes), spokeToPairs(spokesBetween), ringPairs
);

const x = d3.scaleLinear().domain([-111.24, 111.42]).range([plot.left, plot.right]);
const y = d3.scaleLinear().domain([-112.1, 112.1]).range([plot.bottom, plot.top]);

const svg = d3.select("#chart");
svg.append("rect").attr("x", 0).attr("y", 0).attr("width", W).attr("height", H).attr("fill", "#ffffff");
svg.append("rect")
  .attr("x", plot.left).attr("y", plot.top)
  .attr("width", plot.right - plot.left).attr("height", plot.bottom - plot.top)
  .attr("fill", "#E5ECF6");

const grid = svg.append("g");
grid.selectAll(".vg").data(xTickValues).join("line")
  .attr("x1", d => x(d)).attr("x2", d => x(d))
  .attr("y1", plot.top).attr("y2", plot.bottom)
  .attr("stroke", "#ffffff").attr("stroke-width", d => d === 0 ? 2 : 1);
grid.selectAll(".hg").data(yTickValues).join("line")
  .attr("y1", d => y(d)).attr("y2", d => y(d))
  .attr("x1", plot.left).attr("x2", plot.right)
  .attr("stroke", "#ffffff").attr("stroke-width", d => d === 0 ? 2 : 1);

svg.append("clipPath").attr("id", "plotclip").append("rect")
  .attr("x", plot.left).attr("y", plot.top)
  .attr("width", plot.right - plot.left).attr("height", plot.bottom - plot.top);

svg.append("g").attr("clip-path", "url(#plotclip)")
  .selectAll("circle").data(points).join("circle")
  .attr("cx", d => x(d[0])).attr("cy", d => y(d[1]))
  .attr("r", 1.6).attr("fill", "#636efa");

const xAxis = d3.axisBottom(x).tickValues(xTickValues)
  .tickFormat((d, i) => xTickLabels[i]).tickSize(0).tickPadding(8);
const gx = svg.append("g").attr("transform", `translate(0,${plot.bottom})`).call(xAxis);
gx.select(".domain").remove();
gx.selectAll("text").attr("fill", "#2a3f5f").style("font-size", "12px");

const yAxis = d3.axisLeft(y).tickValues(yTickValues)
  .tickFormat((d, i) => yTickLabels[i]).tickSize(0).tickPadding(3);
const gy = svg.append("g").attr("transform", `translate(${plot.left},0)`).call(yAxis);
gy.select(".domain").remove();
gy.selectAll("text").attr("fill", "#2a3f5f").style("font-size", "12px");
</script>
</body></html>
